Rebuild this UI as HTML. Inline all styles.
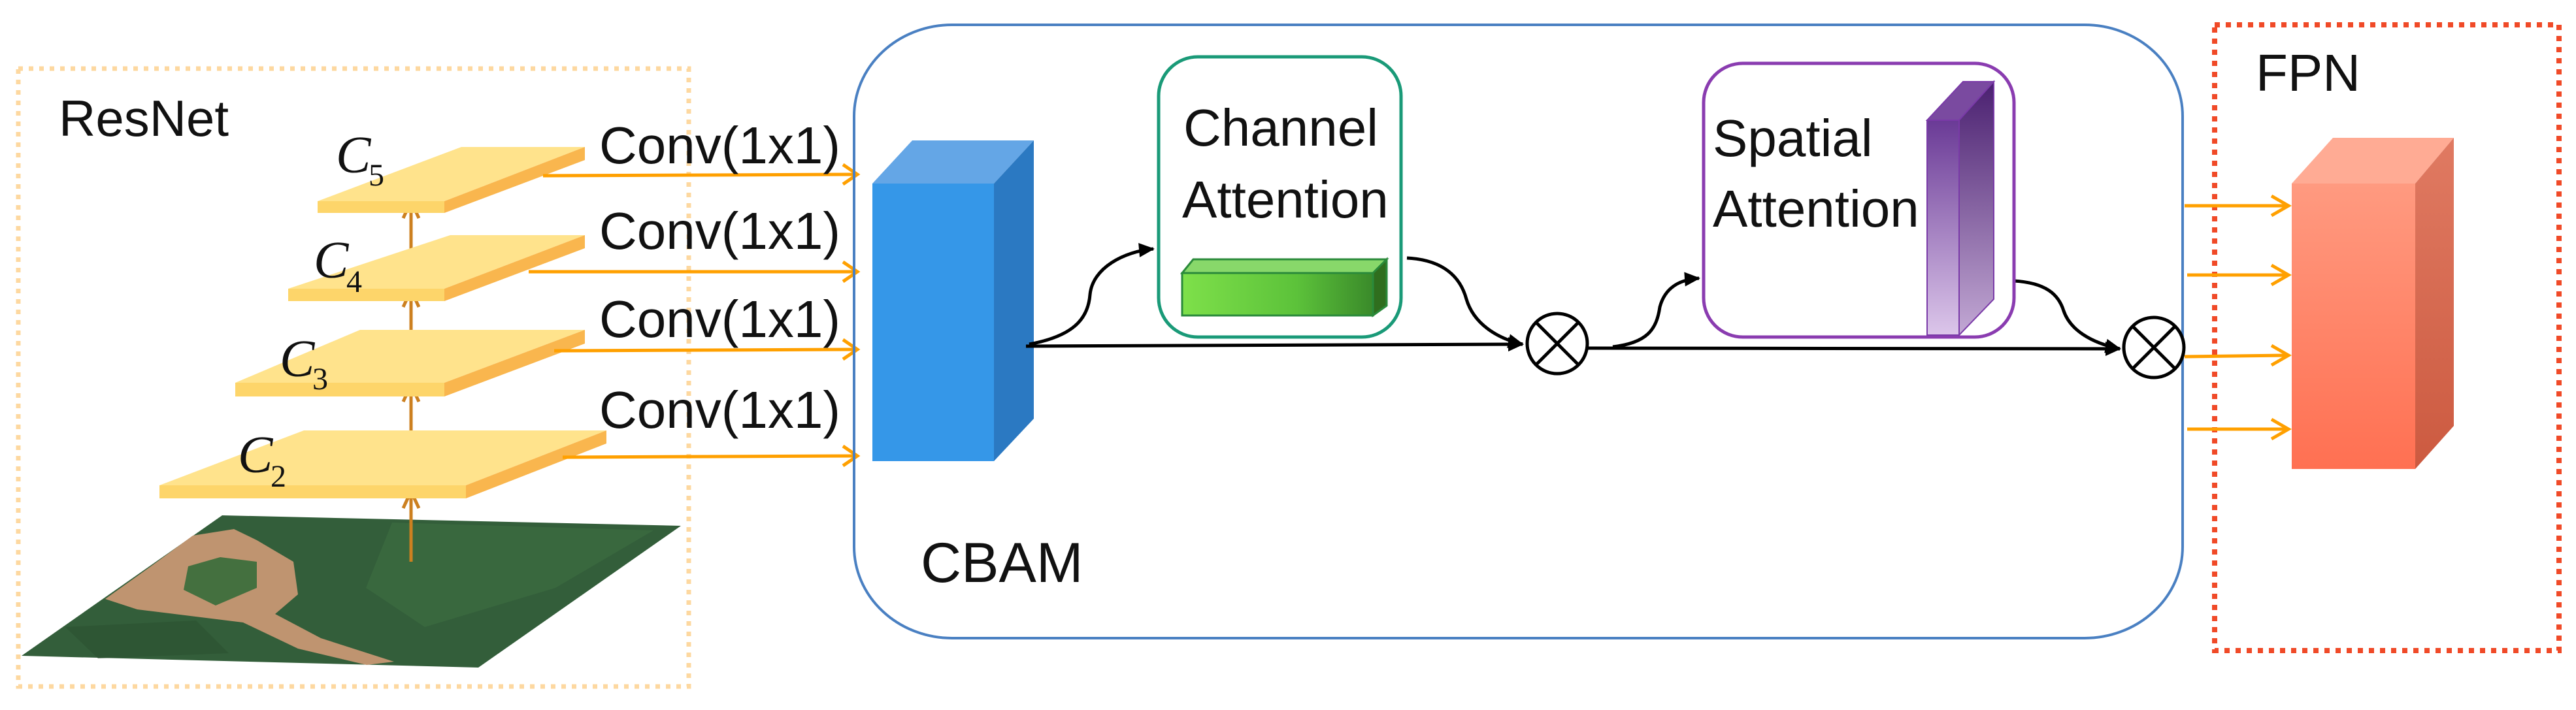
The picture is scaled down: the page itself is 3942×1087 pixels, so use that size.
<!DOCTYPE html>
<html><head><meta charset="utf-8"><style>
html,body{margin:0;padding:0;background:#fff;}
svg{display:block;}
text{font-family:"Liberation Sans",sans-serif;fill:#111;}
.ser{font-family:"Liberation Serif","DejaVu Serif",serif;font-style:italic;}
.sub{font-family:"Liberation Serif","DejaVu Serif",serif;}
</style></head><body>
<svg width="3942" height="1087" viewBox="0 0 3942 1087" xmlns="http://www.w3.org/2000/svg">
<defs>
<linearGradient id="gbar" x1="0" x2="1" y1="0" y2="0"><stop offset="0" stop-color="#7ee04a"/><stop offset="0.6" stop-color="#5cc23a"/><stop offset="1" stop-color="#3a8a2a"/></linearGradient>
<linearGradient id="pf" x1="0" x2="0" y1="0" y2="1"><stop offset="0" stop-color="#6a3a96"/><stop offset="1" stop-color="#dcc6ea"/></linearGradient>
<linearGradient id="ps" x1="0" x2="0" y1="0" y2="1"><stop offset="0" stop-color="#4a2070"/><stop offset="1" stop-color="#c2a8d4"/></linearGradient>
<linearGradient id="rf" x1="0" x2="0" y1="0" y2="1"><stop offset="0" stop-color="#ff9a80"/><stop offset="1" stop-color="#ff7052"/></linearGradient>
<linearGradient id="rs" x1="0" x2="0" y1="0" y2="1"><stop offset="0" stop-color="#e07a62"/><stop offset="1" stop-color="#cc5a40"/></linearGradient>
<marker id="ab" markerWidth="30" markerHeight="30" refX="26" refY="15" orient="auto" markerUnits="userSpaceOnUse"><path d="M4,4 L28,15 L4,26 Z" fill="#000"/></marker>
</defs>

<rect x="28" y="105" width="1026" height="946" fill="none" stroke="#fdd8a0" stroke-width="7" stroke-dasharray="7 9"/>
<text x="90" y="208" font-size="78">ResNet</text>

<polygon points="340,789 1042,805 732,1022 33,1004" fill="#335e3a"/>
<polygon points="600,800 1000,812 850,900 650,960 560,900" fill="#3b6a40" opacity="0.8"/>
<polygon points="100,960 300,950 350,1000 150,1008" fill="#2c5232" opacity="0.7"/>
<path d="M358,810 L393,827 L449,860 L456,910 L421,940 L491,977 L603,1013 L561,1018 L456,993 L372,953 L210,933 L161,917 L231,867 L295,820 Z" fill="#bf9470"/>
<path d="M337,853 L393,860 L393,900 L330,927 L281,903 L288,867 Z" fill="#44703f"/>

<g stroke="#cc8020" stroke-width="5" fill="none">
<line x1="629" y1="860" x2="629" y2="753"/><path d="M617,778 L629,752 L641,778"/>
<line x1="629" y1="686" x2="629" y2="590"/><path d="M617,615 L629,589 L641,615"/>
<line x1="629" y1="541" x2="629" y2="445"/><path d="M617,470 L629,444 L641,470"/>
<line x1="629" y1="406" x2="629" y2="309"/><path d="M617,334 L629,308 L641,334"/>
</g>

<g>
<polygon points="465,659 928,659 713,743 244,743" fill="#ffe38c"/>
<polygon points="244,743 713,743 713,763 244,763" fill="#fdd56a"/>
<polygon points="928,659 928,679 713,763 713,743" fill="#f9b64e"/>
<polygon points="551,505 895,505 680,586 360,586" fill="#ffe38c"/>
<polygon points="360,586 680,586 680,607 360,607" fill="#fdd56a"/>
<polygon points="895,505 895,526 680,607 680,586" fill="#f9b64e"/>
<polygon points="689,360 895,360 680,442 441,442" fill="#ffe38c"/>
<polygon points="441,442 680,442 680,461 441,461" fill="#fdd56a"/>
<polygon points="895,360 895,380 680,461 680,442" fill="#f9b64e"/>
<polygon points="706,225 895,225 680,308 486,308" fill="#ffe38c"/>
<polygon points="486,308 680,308 680,326 486,326" fill="#fdd56a"/>
<polygon points="895,225 895,245 680,326 680,308" fill="#f9b64e"/>
</g>
<text class="ser" x="514" y="264" font-size="80">C</text><text class="sub" x="564" y="284" font-size="48">5</text>
<text class="ser" x="480" y="425" font-size="80">C</text><text class="sub" x="530" y="447" font-size="48">4</text>
<text class="ser" x="428" y="576" font-size="80">C</text><text class="sub" x="478" y="596" font-size="48">3</text>
<text class="ser" x="364" y="723" font-size="80">C</text><text class="sub" x="414" y="745" font-size="48">2</text>

<g stroke="#ffa000" stroke-width="5" fill="none">
<line x1="831" y1="269" x2="1310" y2="267"/><path d="M1290,252 L1312,267 L1290,282"/>
<line x1="809" y1="416" x2="1310" y2="416"/><path d="M1290,401 L1312,416 L1290,431"/>
<line x1="848" y1="537" x2="1310" y2="535"/><path d="M1290,520 L1312,535 L1290,550"/>
<line x1="861" y1="700" x2="1310" y2="698"/><path d="M1290,683 L1312,698 L1290,713"/>
</g>
<g font-size="80">
<text x="917" y="250">Conv(1x1)</text>
<text x="917" y="381">Conv(1x1)</text>
<text x="917" y="516">Conv(1x1)</text>
<text x="917" y="655">Conv(1x1)</text>
</g>

<rect x="1307" y="38" width="2033" height="939" rx="150" ry="140" fill="none" stroke="#4a80c2" stroke-width="4"/>
<text x="1409" y="891" font-size="86">CBAM</text>

<polygon points="1335,281 1396,215 1582,215 1521,281" fill="#64a6e6"/>
<polygon points="1521,281 1582,215 1582,641 1521,706" fill="#2b79c2"/>
<rect x="1335" y="281" width="186" height="425" fill="#3597e8"/>

<rect x="1773" y="87" width="371" height="429" rx="60" fill="none" stroke="#1a9a78" stroke-width="5"/>
<text x="1811" y="223" font-size="80">Channel</text>
<text x="1809" y="333" font-size="80">Attention</text>
<polygon points="1809,418 1826,397 2122,397 2101,418" fill="#88d86a" stroke="#2a8a3a" stroke-width="3"/>
<polygon points="2101,418 2122,397 2122,468 2101,483" fill="#2f6e1e" stroke="#2a8a3a" stroke-width="3"/>
<rect x="1809" y="418" width="292" height="65" fill="url(#gbar)" stroke="#2a8a3a" stroke-width="3"/>

<g stroke="#000" stroke-width="5" fill="none">
<line x1="1570" y1="530" x2="2330" y2="527" marker-end="url(#ab)"/>
<path d="M1575,527 C1640,515 1665,490 1668,451 C1672,410 1720,385 1765,381" marker-end="url(#ab)"/>
<path d="M2153,395 C2210,398 2235,425 2244,458 C2255,495 2290,518 2330,527" marker-end="url(#ab)"/>
<line x1="2430" y1="533" x2="3244" y2="534" marker-end="url(#ab)"/>
<path d="M2468,531 C2520,525 2535,505 2540,470 C2548,440 2570,428 2600,426" marker-end="url(#ab)"/>
<path d="M3082,430 C3130,433 3150,450 3158,476 C3168,505 3200,525 3244,534" marker-end="url(#ab)"/>
</g>
<g stroke="#000" stroke-width="5" fill="#fff">
<circle cx="2383" cy="526" r="46"/>
<line x1="2351" y1="494" x2="2415" y2="558"/><line x1="2415" y1="494" x2="2351" y2="558"/>
<circle cx="3296" cy="532" r="46"/>
<line x1="3264" y1="500" x2="3328" y2="564"/><line x1="3328" y1="500" x2="3264" y2="564"/>
</g>

<rect x="2607" y="97" width="475" height="419" rx="60" fill="none" stroke="#8a3cb0" stroke-width="5"/>
<text x="2621" y="239" font-size="80">Spatial</text>
<text x="2621" y="347" font-size="80">Attention</text>
<polygon points="2949,184 3004,125 3051,125 2998,184" fill="#7a4aa0" stroke="#7a3aa8" stroke-width="2"/>
<polygon points="2998,184 3051,125 3051,458 2998,513" fill="url(#ps)" stroke="#7a3aa8" stroke-width="2"/>
<rect x="2949" y="184" width="49" height="329" fill="url(#pf)" stroke="#7a3aa8" stroke-width="2"/>

<rect x="3389" y="38" width="527" height="958" fill="none" stroke="#f04a28" stroke-width="8" stroke-dasharray="8 9"/>
<text x="3452" y="139" font-size="80">FPN</text>
<g stroke="#ffa000" stroke-width="5" fill="none">
<line x1="3343" y1="315" x2="3500" y2="315"/><path d="M3476,300 L3502,315 L3476,330"/>
<line x1="3347" y1="421" x2="3500" y2="421"/><path d="M3476,406 L3502,421 L3476,436"/>
<line x1="3343" y1="546" x2="3500" y2="544"/><path d="M3476,529 L3502,544 L3476,559"/>
<line x1="3347" y1="657" x2="3500" y2="657"/><path d="M3476,642 L3502,657 L3476,672"/>
</g>
<polygon points="3507,281 3570,211 3755,211 3696,281" fill="#ffab94"/>
<polygon points="3696,281 3755,211 3755,652 3696,718" fill="url(#rs)"/>
<rect x="3507" y="281" width="189" height="437" fill="url(#rf)"/>
</svg>
</body></html>
